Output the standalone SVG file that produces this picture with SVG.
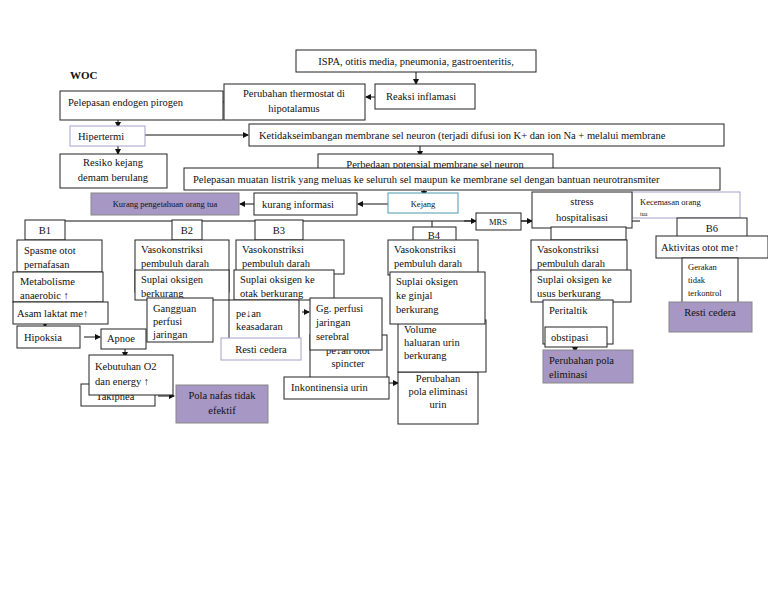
<svg xmlns="http://www.w3.org/2000/svg" width="768" height="594" viewBox="0 0 768 594">
<style>
rect{fill:#fff;stroke:#222;stroke-width:1}
rect.p{fill:#a797c4;stroke:#888}
rect.t{stroke:#4a9ab0}
rect.l{stroke:#a9a0c8}
text{font-family:"Liberation Serif",serif;font-size:10.5px;fill:#111}
text.s{font-size:8.5px}
text.c{text-anchor:middle}
#conn line,#conn polyline{stroke:#111;stroke-width:1;fill:none;marker-end:url(#a)}
#conn .n{marker-end:none}
</style>
<defs><marker id="a" markerWidth="6" markerHeight="6" refX="5" refY="3" orient="auto"><path d="M0,0 L6,3 L0,6z" fill="#111"/></marker></defs>
<rect width="768" height="594" style="fill:#fff;stroke:none"/>
<text x="70" y="79" style="font-weight:bold;font-size:11px">WOC</text>
<g id="conn">
<line x1="416" y1="72" x2="416" y2="84"/>
<line x1="375" y1="97" x2="366" y2="97"/>
<line x1="224" y1="102" x2="214" y2="102"/>
<line x1="118" y1="120" x2="118" y2="127"/>
<line x1="118" y1="146" x2="118" y2="154"/>
<line x1="145" y1="135" x2="248" y2="135"/>
<line x1="420" y1="146" x2="420" y2="156"/>
<line x1="424" y1="190" x2="424" y2="196"/>
<line x1="388" y1="204" x2="358" y2="204"/>
<line x1="254" y1="204" x2="240" y2="204"/>
<line x1="464" y1="221" x2="476" y2="221"/>
<line x1="521" y1="221" x2="532" y2="221"/>
<polyline class="n" points="25,221 640,221"/>
<line x1="45" y1="221" x2="45" y2="240"/>
<line x1="187" y1="221" x2="187" y2="240"/>
<line x1="279" y1="221" x2="279" y2="240"/>
<line x1="432" y1="221" x2="432" y2="240"/>
<line x1="580" y1="228" x2="580" y2="240"/>
<line x1="712" y1="216" x2="712" y2="236"/>
<line x1="712" y1="250" x2="712" y2="260"/>
<line x1="712" y1="290" x2="712" y2="303"/>
<line x1="45" y1="318" x2="45" y2="327"/>
<line x1="84" y1="337" x2="100" y2="337"/>
<line x1="125" y1="349" x2="125" y2="357"/>
<line x1="158" y1="396" x2="174" y2="396"/>
<line x1="187" y1="262" x2="187" y2="272"/>
<line x1="280" y1="262" x2="280" y2="272"/>
<line x1="280" y1="290" x2="280" y2="300"/>
<line x1="262" y1="330" x2="262" y2="340"/>
<line x1="302" y1="312" x2="309" y2="312"/>
<line x1="389" y1="383" x2="398" y2="383"/>
<line x1="432" y1="270" x2="432" y2="280"/>
<line x1="432" y1="355" x2="432" y2="366"/>
<line x1="576" y1="265" x2="576" y2="275"/>
<line x1="576" y1="290" x2="576" y2="300"/>
<line x1="575" y1="325" x2="575" y2="332"/>
<line x1="575" y1="345" x2="575" y2="352"/>
</g>
<g id="n1"><rect x="296" y="50" width="240" height="22"/><text x="416" y="65" class="c">ISPA, otitis media, pneumonia, gastroenteritis,</text></g>
<g id="n2"><rect x="60" y="91" width="163" height="29"/><text x="68" y="106">Pelepasan endogen pirogen</text></g>
<g id="n3"><rect x="224" y="84" width="141" height="36"/><text x="294" y="97" class="c">Perubahan thermostat di</text><text x="294" y="112" class="c">hipotalamus</text></g>
<g id="n4"><rect x="375" y="84" width="100" height="25"/><text x="386" y="100">Reaksi inflamasi</text></g>
<g id="n5"><rect x="70" y="126" width="75" height="20" class="l"/><text x="78" y="140">Hipertermi</text></g>
<g id="n6"><rect x="249" y="124" width="475" height="22"/><text x="259" y="139">Ketidakseimbangan membrane sel neuron (terjadi difusi ion K+ dan ion Na + melalui membrane</text></g>
<g id="n7"><rect x="60" y="154" width="107" height="34"/><text x="113" y="166" class="c">Resiko kejang</text><text x="113" y="181" class="c">demam berulang</text></g>
<g id="n8"><rect x="318" y="154" width="235" height="20"/><text x="435" y="168" class="c">Perbedaan potensial membrane sel neuron</text></g>
<g id="n9"><rect x="184" y="168" width="536" height="22"/><text x="193" y="183">Pelepasan muatan listrik yang meluas ke seluruh sel maupun ke membrane sel dengan bantuan neurotransmiter</text></g>
<g id="n10"><rect x="91" y="193" width="148" height="22" class="p"/><text x="165" y="207" class="c s">Kurang pengetahuan orang tua</text></g>
<g id="n11"><rect x="254" y="193" width="103" height="22"/><text x="262" y="208">kurang informasi</text></g>
<g id="n12"><rect x="388" y="193" width="70" height="20" class="t"/><text x="423" y="207" class="c s">Kejang</text></g>
<g id="n14"><rect x="632" y="192" width="108" height="26" class="l"/><text x="640" y="205" class="s">Kecemasan orang</text><text x="640" y="216" style="font-size:6px">tua</text></g>
<g id="n13"><rect x="532" y="192" width="100" height="36"/><text x="582" y="205" class="c">stress</text><text x="582" y="221" class="c">hospitalisasi</text></g>
<g id="n15"><rect x="476" y="213" width="45" height="17"/><text x="498" y="225" class="c s">MRS</text></g>
<g id="b1"><rect x="25" y="220" width="40" height="20"/><text x="45" y="234" class="c">B1</text></g>
<g id="b2"><rect x="172" y="220" width="30" height="20"/><text x="187" y="234" class="c">B2</text></g>
<g id="b3"><rect x="255" y="220" width="48" height="20"/><text x="279" y="234" class="c">B3</text></g>
<g id="b4"><rect x="413" y="227" width="43" height="16"/><text x="434" y="239" class="c">B4</text></g>
<g id="b5"><rect x="551" y="227" width="75" height="13"/></g>
<g id="b6"><rect x="677" y="218" width="70" height="20"/><text x="712" y="232" class="c">B6</text></g>
<g id="a1"><rect x="17" y="240" width="85" height="32"/><text x="24" y="254">Spasme otot</text><text x="24" y="268">pernafasan</text></g>
<g id="a2"><rect x="13" y="272" width="90" height="30"/><text x="20" y="285">Metabolisme</text><text x="20" y="299">anaerobic ↑</text></g>
<g id="a3"><rect x="13" y="302" width="95" height="22"/><text x="17" y="317">Asam laktat me↑</text></g>
<g id="a4"><rect x="17" y="326" width="63" height="22"/><text x="24" y="341">Hipoksia</text></g>
<g id="a5"><rect x="101" y="329" width="45" height="20"/><text x="107" y="342">Apnoe</text></g>
<g id="a6"><rect x="81" y="384" width="74" height="22"/><text x="96" y="400">Takipnea</text></g>
<g id="a7"><rect x="89" y="355" width="84" height="40"/><text x="95" y="370">Kebutuhan O2</text><text x="95" y="385">dan energy ↑</text></g>
<g id="a8"><rect x="176" y="385" width="92" height="38" class="p"/><text x="222" y="399" class="c">Pola nafas tidak</text><text x="222" y="414" class="c">efektif</text></g>
<g id="c1"><rect x="135" y="240" width="94" height="52"/><text x="141" y="253">Vasokonstriksi</text><text x="141" y="267">pembuluh darah</text></g>
<g id="c2"><rect x="135" y="270" width="94" height="30"/><text x="141" y="283">Suplai oksigen</text><text x="141" y="297">berkurang</text></g>
<g id="c3"><rect x="147" y="298" width="66" height="44"/><text x="153" y="312">Gangguan</text><text x="153" y="325">perfusi</text><text x="153" y="338">jaringan</text></g>
<g id="d1"><rect x="236" y="240" width="108" height="34"/><text x="242" y="253">Vasokonstriksi</text><text x="242" y="267">pembuluh darah</text></g>
<g id="d2"><rect x="234" y="270" width="100" height="30"/><text x="240" y="283">Suplai oksigen ke</text><text x="240" y="297">otak berkurang</text></g>
<g id="d3"><rect x="229" y="300" width="70" height="40"/><text x="236" y="317">pe↓an</text><text x="236" y="330">keasadaran</text></g>
<g id="d4"><rect x="221" y="338" width="80" height="22" class="l"/><text x="261" y="353" class="c">Resti cedera</text></g>
<g id="d6"><rect x="310" y="335" width="77" height="45"/><text x="348" y="354" class="c">pe↓an otot</text><text x="348" y="367" class="c">spincter</text></g>
<g id="d5"><rect x="310" y="298" width="72" height="52"/><text x="316" y="312">Gg. perfusi</text><text x="316" y="326">jaringan</text><text x="316" y="340">serebral</text></g>
<g id="d7"><rect x="284" y="377" width="105" height="22"/><text x="291" y="391">Inkontinensia urin</text></g>
<g id="e1"><rect x="388" y="240" width="90" height="35"/><text x="394" y="253">Vasokonstriksi</text><text x="394" y="267">pembuluh darah</text></g>
<g id="e4"><rect x="398" y="372" width="80" height="52"/><text x="438" y="382" class="c">Perubahan</text><text x="438" y="395" class="c">pola eliminasi</text><text x="438" y="408" class="c">urin</text></g>
<g id="e3"><rect x="398" y="320" width="88" height="52"/><text x="404" y="333">Volume</text><text x="404" y="346">haluaran urin</text><text x="404" y="359">berkurang</text></g>
<g id="e2"><rect x="390" y="272" width="95" height="52"/><text x="396" y="285">Suplai oksigen</text><text x="396" y="299">ke ginjal</text><text x="396" y="313">berkurang</text></g>
<g id="f1"><rect x="531" y="240" width="96" height="32"/><text x="537" y="253">Vasokonstriksi</text><text x="537" y="267">pembuluh darah</text></g>
<g id="f2"><rect x="531" y="270" width="100" height="32"/><text x="537" y="283">Suplai oksigen  ke</text><text x="537" y="297">usus berkurang</text></g>
<g id="f3"><rect x="543" y="300" width="70" height="44"/><text x="549" y="314">Peritaltik</text></g>
<g id="f4"><rect x="545" y="327" width="62" height="20"/><text x="551" y="341">obstipasi</text></g>
<g id="f5"><rect x="543" y="350" width="90" height="33" class="p"/><text x="549" y="364">Perubahan pola</text><text x="549" y="378">eliminasi</text></g>
<g id="g1"><rect x="656" y="236" width="112" height="22"/><text x="661" y="251">Aktivitas otot me↑</text></g>
<g id="g2"><rect x="682" y="258" width="56" height="46"/><text x="688" y="270" class="s">Gerakan</text><text x="688" y="283" class="s">tidak</text><text x="688" y="296" class="s">terkontrol</text></g>
<g id="g3"><rect x="669" y="302" width="83" height="30" class="p"/><text x="710" y="316" class="c">Resti cedera</text></g>
</svg>
